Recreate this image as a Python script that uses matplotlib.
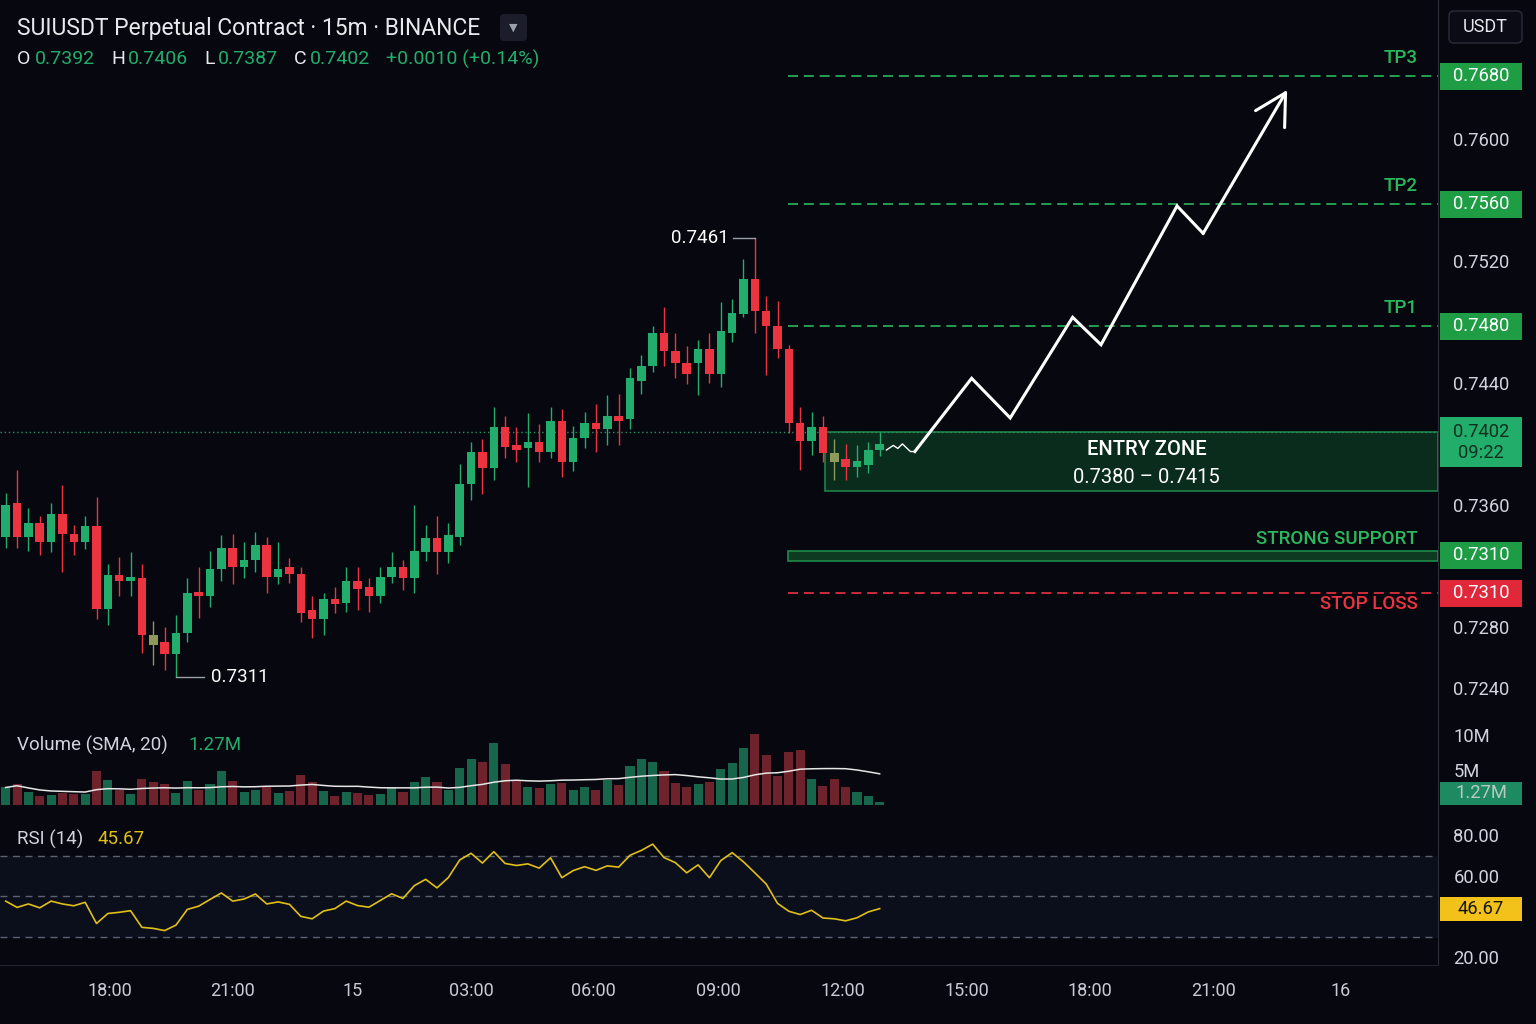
import matplotlib
matplotlib.use("Agg")
import matplotlib.pyplot as plt
import matplotlib.transforms as mtransforms
from matplotlib.patches import Rectangle, FancyBboxPatch
import numpy as np
import pandas as pd

plt.rcParams['font.family'] = ['Roboto', 'DejaVu Sans']

# ---- data (15m candles) ----
opens = [0.7339, 0.7361, 0.7339, 0.7348, 0.7336, 0.7354, 0.7341, 0.7336, 0.7346, 0.7292,
         0.7314, 0.7310, 0.7312, 0.7275, 0.7270, 0.7262, 0.7276, 0.7303, 0.7300, 0.7318,
         0.7332, 0.7319, 0.7324, 0.7334, 0.7313, 0.7319, 0.7315, 0.7291, 0.7285, 0.7298,
         0.7296, 0.7310, 0.7306, 0.7300, 0.7313, 0.7319, 0.7312, 0.7329, 0.7338, 0.7329,
         0.7339, 0.7374, 0.7395, 0.7384, 0.7411, 0.7399, 0.7397, 0.7401, 0.7395, 0.7415,
         0.7388, 0.7404, 0.7414, 0.7410, 0.7418, 0.7416, 0.7441, 0.7451, 0.7473, 0.7461,
         0.7453, 0.7453, 0.7462, 0.7446, 0.7473, 0.7485, 0.7508, 0.7487, 0.7477, 0.7462,
         0.7414, 0.7402, 0.7411, 0.7394, 0.7390, 0.7385, 0.7386, 0.7396]
highs = [0.7368, 0.7383, 0.7358, 0.7353, 0.7361, 0.7373, 0.7347, 0.7353, 0.7365, 0.7321,
         0.7326, 0.7329, 0.7321, 0.7284, 0.7280, 0.7288, 0.7312, 0.7319, 0.7330, 0.7340,
         0.7341, 0.7336, 0.7342, 0.7339, 0.7336, 0.7325, 0.7319, 0.7300, 0.7302, 0.7306,
         0.7319, 0.7319, 0.7312, 0.7319, 0.7329, 0.7324, 0.7360, 0.7347, 0.7353, 0.7348,
         0.7387, 0.7401, 0.7403, 0.7424, 0.7418, 0.7411, 0.7420, 0.7413, 0.7424, 0.7423,
         0.7412, 0.7421, 0.7426, 0.7432, 0.7433, 0.7450, 0.7458, 0.7477, 0.7490, 0.7473,
         0.7464, 0.7468, 0.7473, 0.7493, 0.7495, 0.7521, 0.7535, 0.7497, 0.7494, 0.7465,
         0.7424, 0.7421, 0.7418, 0.7403, 0.7400, 0.7399, 0.7401, 0.7408]
lows = [0.7332, 0.7332, 0.7330, 0.7327, 0.7329, 0.7316, 0.7327, 0.7331, 0.7285, 0.7281,
        0.7300, 0.7300, 0.7263, 0.7255, 0.7252, 0.7247, 0.7270, 0.7286, 0.7293, 0.7310,
        0.7308, 0.7312, 0.7316, 0.7302, 0.7308, 0.7309, 0.7283, 0.7273, 0.7275, 0.7289,
        0.7290, 0.7291, 0.7290, 0.7296, 0.7309, 0.7304, 0.7302, 0.7323, 0.7315, 0.7322,
        0.7334, 0.7363, 0.7367, 0.7376, 0.7391, 0.7388, 0.7372, 0.7388, 0.7391, 0.7378,
        0.7382, 0.7397, 0.7395, 0.7399, 0.7399, 0.7410, 0.7433, 0.7447, 0.7451, 0.7443,
        0.7439, 0.7432, 0.7440, 0.7437, 0.7467, 0.7483, 0.7473, 0.7445, 0.7456, 0.7407,
        0.7383, 0.7393, 0.7388, 0.7376, 0.7376, 0.7378, 0.7381, 0.7392]
closes = [0.7360, 0.7339, 0.7348, 0.7336, 0.7354, 0.7341, 0.7336, 0.7346, 0.7292, 0.7314,
          0.7310, 0.7313, 0.7275, 0.7268, 0.7262, 0.7276, 0.7302, 0.7300, 0.7318, 0.7332,
          0.7319, 0.7324, 0.7334, 0.7313, 0.7318, 0.7315, 0.7289, 0.7285, 0.7298, 0.7295,
          0.7310, 0.7305, 0.7300, 0.7313, 0.7319, 0.7312, 0.7330, 0.7338, 0.7329, 0.7340,
          0.7374, 0.7395, 0.7384, 0.7411, 0.7398, 0.7396, 0.7401, 0.7395, 0.7415, 0.7388,
          0.7404, 0.7414, 0.7410, 0.7418, 0.7415, 0.7443, 0.7451, 0.7473, 0.7461, 0.7453,
          0.7446, 0.7462, 0.7446, 0.7474, 0.7486, 0.7508, 0.7487, 0.7477, 0.7462, 0.7414,
          0.7402, 0.7411, 0.7394, 0.7388, 0.7385, 0.7389, 0.7396, 0.7400]
neutral_idx = [13, 73]

volume_m = [2.5, 3.0, 1.8, 1.3, 1.4, 1.7, 1.6, 1.5, 4.9, 3.6,
            2.1, 1.5, 3.7, 3.3, 3.0, 1.7, 3.4, 2.1, 3.0, 4.9,
            3.4, 1.9, 2.2, 2.7, 1.7, 2.0, 4.3, 3.3, 2.0, 1.3,
            1.8, 1.7, 1.4, 1.5, 2.6, 1.8, 3.3, 4.0, 3.3, 2.2,
            5.3, 6.6, 6.1, 8.8, 5.9, 3.6, 2.6, 2.4, 3.0, 3.1,
            2.1, 2.6, 2.1, 3.6, 2.9, 5.5, 6.5, 6.1, 4.9, 3.1,
            2.6, 3.0, 3.3, 5.2, 6.0, 8.1, 10.1, 7.2, 4.1, 7.5,
            7.9, 3.7, 2.7, 3.7, 2.5, 1.8, 1.3, 0.4]

rsi = [47.7, 44.6, 46.3, 44.4, 47.7, 46.3, 45.4, 47.1, 36.7, 41.6,
       42.2, 43.0, 34.8, 34.3, 33.2, 35.9, 43.6, 45.2, 48.5, 51.7,
       47.7, 48.7, 51.2, 46.3, 47.3, 46.1, 40.2, 39.0, 42.8, 44.0,
       47.7, 45.5, 44.7, 48.0, 51.3, 49.0, 55.3, 58.4, 54.2, 59.3,
       67.9, 71.2, 66.4, 72.0, 66.2, 65.2, 66.0, 63.9, 69.0, 59.2,
       62.7, 64.6, 62.8, 65.0, 64.4, 70.2, 72.6, 75.7, 69.1, 66.6,
       61.6, 65.5, 59.2, 67.6, 71.5, 67.0, 61.6, 56.1, 46.6, 42.7,
       41.1, 43.2, 39.4, 39.0, 38.0, 39.5, 42.4, 44.0]

time_tick_pos = [9.2, 20.0, 30.6, 41.0, 51.8, 62.8, 73.8, 84.7, 95.5, 106.4, 117.6]
time_tick_labels = ['18:00', '21:00', '15', '03:00', '06:00', '09:00', '12:00',
                    '15:00', '18:00', '21:00', '16']

price_ticks = [0.7240, 0.7280, 0.7360, 0.7440, 0.7520, 0.7600]
vol_ticks = [5, 10]
vol_tick_labels = ['5M', '10M']
rsi_ticks = [20, 60, 80]

# trade plan levels (as drawn on the chart)
tp_names = ['TP1', 'TP2', 'TP3']
tp_levels = [0.7477, 0.7557, 0.7641]
tp_badges = ['0.7480', '0.7560', '0.7680']
current_level = 0.7408
current_badge = '0.7402\n09:22'
entry_zone = (0.7369, 0.7408)
entry_text = '0.7380 – 0.7415'
support_band = (0.7323, 0.7330)
support_badge = '0.7310'
stop_level = 0.7302
stop_badge = '0.7310'
level_start = 68.9
zone_start = 72.2

# projected path
proj_x = [80.1, 85.1, 88.5, 94.0, 96.5, 103.2, 105.5, 112.9]
proj_y = [0.7395, 0.7443, 0.7417, 0.7483, 0.7465, 0.7556, 0.7538, 0.7632]
squig_x = [77.6, 78.2, 78.6, 79.0, 79.7, 80.1]
squig_y = [0.7396, 0.7399, 0.7397, 0.7400, 0.7395, 0.7395]

# ---- style ----
BG = '#06070f'
GREEN = '#22ad6c'
RED = '#ec3440'
NEUTRAL = '#8f9a5a'
LVL_GREEN = '#2bb85c'
SEP = '#1f2330'
TXT = '#d1d4dc'

W, H = 1536, 1024
fig = plt.figure(figsize=(W / 100, H / 100), dpi=100, facecolor=BG)
right_frac = 1438 / W

ax = fig.add_axes([0, 1 - 718 / H, right_frac, 718 / H], facecolor=BG)
axv = fig.add_axes([0, 1 - 814 / H, right_frac, 96 / H], facecolor=BG)
axr = fig.add_axes([0, 1 - 965 / H, right_frac, 151 / H], facecolor=BG)

xlim = (-0.502, 126.19)
n = len(opens)
x = np.arange(n)
o = np.array(opens); hi = np.array(highs); lo = np.array(lows); c = np.array(closes)
up = c >= o
cols = np.where(up, GREEN, RED).astype(object)
for i in neutral_idx:
    cols[i] = NEUTRAL

for a in (ax, axv, axr):
    a.set_xlim(*xlim)
    a.yaxis.tick_right()
    a.tick_params(axis='y', length=0, pad=11, labelsize=13.2, labelcolor=TXT)
    a.tick_params(axis='x', length=0)
    for s in ('left', 'top', 'bottom'):
        a.spines[s].set_visible(False)
    a.spines['right'].set_color('#2a2e39')
    a.set_xticks([])

# ---- price panel ----
ax.set_ylim(0.72203, 0.7691)
ax.set_yticks(price_ticks)
ax.yaxis.set_major_formatter(plt.FuncFormatter(lambda v, p: f'{v:.4f}'))
ax.spines['bottom'].set_visible(True)
ax.spines['bottom'].set_color(SEP)

ax.vlines(x, lo, hi, colors=list(cols), linewidth=1.0, zorder=4)
body_h = np.maximum(np.abs(c - o), 0.00004)
ax.bar(x, body_h, bottom=np.minimum(o, c), width=0.75, color=list(cols), zorder=5)

# current price dotted line
ax.axhline(current_level, color='#2c8f63', lw=1.0, ls=(0, (1, 2)), zorder=3)

# entry zone
ax.add_patch(Rectangle((zone_start, entry_zone[0]), xlim[1] - zone_start,
                       entry_zone[1] - entry_zone[0], facecolor='#0a2f1d',
                       edgecolor='#1e7f46', lw=1.3, alpha=0.95, zorder=2))
ax.text(100.5, 0.7396, 'ENTRY ZONE', color='white', fontsize=14.5, fontweight='medium',
        ha='center', va='center', zorder=8)
ax.text(100.5, 0.7378, entry_text, color='white', fontsize=14.5,
        ha='center', va='center', zorder=8)

# strong support band
ax.add_patch(Rectangle((level_start, support_band[0]), xlim[1] - level_start,
                       support_band[1] - support_band[0], facecolor='#0e3a22',
                       edgecolor='#1f8a48', lw=1.2, zorder=2))

blend = mtransforms.blended_transform_factory(ax.transAxes, ax.transData)
label_x = 1 - 20 / 1438

for name, lv in zip(tp_names, tp_levels):
    ax.plot([level_start, xlim[1]], [lv, lv], color=LVL_GREEN, lw=1.2,
            dashes=(6, 3.5), zorder=3)
    ax.annotate(name, xy=(label_x, lv), xycoords=blend, xytext=(0, 13),
                textcoords='offset points', ha='right', va='center',
                color=LVL_GREEN, fontsize=13.5, fontweight='medium')

ax.annotate('STRONG SUPPORT', xy=(label_x, np.mean(support_band)), xycoords=blend,
            xytext=(0, 12), textcoords='offset points', ha='right', va='center',
            color=LVL_GREEN, fontsize=13.5, fontweight='medium')

ax.plot([level_start, xlim[1]], [stop_level, stop_level], color=RED, lw=1.2,
        dashes=(6, 3.5), zorder=3)
ax.annotate('STOP LOSS', xy=(label_x, stop_level), xycoords=blend, xytext=(0, -8),
            textcoords='offset points', ha='right', va='center', color=RED,
            fontsize=13.5, fontweight='medium')

# high / low annotations
i_hi = int(np.argmax(hi)); i_lo = int(np.argmin(lo))
ax.plot([i_hi, i_hi - 1.9], [hi[i_hi], hi[i_hi]], color='#9aa0a8', lw=1.0, zorder=6)
ax.text(i_hi - 2.3, hi[i_hi], f'{0.7461:.4f}', color='white', fontsize=13.5,
        ha='right', va='center')
ax.plot([i_lo, i_lo + 2.5], [lo[i_lo], lo[i_lo]], color='#9aa0a8', lw=1.0, zorder=6)
ax.text(i_lo + 3.1, lo[i_lo], f'{0.7311:.4f}', color='white', fontsize=13.5,
        ha='left', va='center')

# projected path
ax.plot(squig_x, squig_y, color='white', lw=1.0, zorder=7)
ax.plot(proj_x[:-1], proj_y[:-1], color='white', lw=2.2, zorder=7,
        solid_joinstyle='miter')
ax.annotate('', xy=(proj_x[-1], proj_y[-1]), xytext=(proj_x[-2], proj_y[-2]),
            arrowprops=dict(arrowstyle='->,head_length=1.0,head_width=0.55',
                            color='white', lw=2.2, mutation_scale=22,
                            shrinkA=0, shrinkB=0), zorder=7)


def badge(a, yv, text, face, tc, h_px, fs=13.2):
    y0, y1 = a.get_ylim()
    ax_h = a.get_position().height * H
    dh = h_px * (y1 - y0) / ax_h
    tr = mtransforms.blended_transform_factory(a.transAxes, a.transData)
    a.add_patch(Rectangle((1440 / 1438, yv - dh / 2), 82 / 1438, dh, transform=tr,
                          facecolor=face, edgecolor='none', clip_on=False, zorder=20))
    a.text(1481 / 1438, yv, text, transform=tr, ha='center', va='center', color=tc,
           fontsize=fs, clip_on=False, zorder=21, linespacing=1.2)


for lv, t in zip(tp_levels, tp_badges):
    badge(ax, lv, t, '#1f9d45', 'white', 27)
badge(ax, 0.7401, current_badge, '#22ad6b', '#10301f', 50)
badge(ax, 0.7327, support_badge, '#1e9b45', 'white', 27)
badge(ax, stop_level, stop_badge, '#e0283a', 'white', 27)

# ---- volume panel ----
vol = np.array(volume_m)
axv.set_ylim(-1.29, 12.43)
vcols = np.where(up, '#17654a', '#6e222c')
axv.bar(x, vol, width=0.8, color=list(vcols), zorder=3)
sma = pd.Series(vol).rolling(20, min_periods=1).mean()
axv.plot(x, sma, color='#e6e6e6', lw=1.1, zorder=4)
axv.set_yticks(vol_ticks)
axv.set_yticklabels(vol_tick_labels)
axv.spines['bottom'].set_visible(True)
axv.spines['bottom'].set_color(SEP)
badge(axv, 1.7, '1.27M', '#1e8a62', '#b9c9c2', 23)

# ---- RSI panel ----
axr.set_ylim(16.3, 90.5)
axr.axhspan(30, 70, color='#0b0e1b', zorder=1)
for lv in (70, 50, 30):
    axr.axhline(lv, color='#5d6270', lw=1.0, dashes=(5, 4), zorder=2)
axr.plot(x, rsi, color='#e0bf16', lw=1.2, zorder=4)
axr.set_yticks(rsi_ticks)
axr.yaxis.set_major_formatter(plt.FuncFormatter(lambda v, p: f'{v:.2f}'))
axr.spines['bottom'].set_visible(True)
axr.spines['bottom'].set_color(SEP)
badge(axr, 43.6, '46.67', '#f2c21b', '#161616', 24)

axr.set_xticks(time_tick_pos)
axr.set_xticklabels(time_tick_labels)
axr.tick_params(axis='x', length=0, pad=12, labelsize=13, labelcolor='#c8cbd3')

# ---- header / overlay in pixel coordinates ----
ov = fig.add_axes([0, 0, 1, 1], zorder=50)
ov.set_xlim(0, W); ov.set_ylim(H, 0)
ov.axis('off')
ov.patch.set_alpha(0)

ov.text(17, 28, 'SUIUSDT Perpetual Contract · 15m · BINANCE', color='#e8e9ed',
        fontsize=16.5, va='center', ha='left')
ov.add_patch(FancyBboxPatch((500, 14), 27, 27, boxstyle='round,pad=0,rounding_size=4',
                            facecolor='#1b1e2a', edgecolor='none'))
ov.text(513.5, 27.5, '▼', color='#9aa0ac', fontsize=8, ha='center', va='center',
        family='DejaVu Sans')

ohlc_parts = [('O', 17, '#e8e9ed'), ('0.7392', 35, GREEN), ('H', 111, '#e8e9ed'),
              ('0.7406', 128, GREEN), ('L', 204, '#e8e9ed'), ('0.7387', 218, GREEN),
              ('C', 294, '#e8e9ed'), ('0.7402', 310, GREEN),
              ('+0.0010 (+0.14%)', 386, GREEN)]
for t, px, col in ohlc_parts:
    ov.text(px, 59, t, color=col, fontsize=14, va='center', ha='left')

ov.add_patch(FancyBboxPatch((1449, 11), 73, 32, boxstyle='round,pad=0,rounding_size=5',
                            facecolor='#0a0b14', edgecolor='#2a2e39', lw=1.0))
ov.text(1485.5, 27.5, 'USDT', color='#e8e9ed', fontsize=13, ha='center', va='center')

ov.text(17, 745, 'Volume (SMA, 20)', color=TXT, fontsize=13.5, va='center')
ov.text(188, 745, '1.27M', color=GREEN, fontsize=13.5, va='center')
ov.text(17, 839, 'RSI (14)', color=TXT, fontsize=13.5, va='center')
ov.text(98, 839, '45.67', color='#e0bf16', fontsize=13.5, va='center')

fig.savefig('out.png', dpi=100, facecolor=BG)
